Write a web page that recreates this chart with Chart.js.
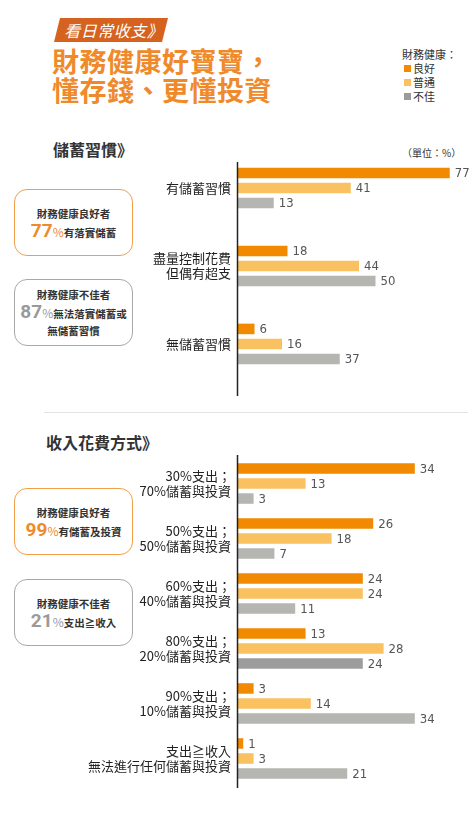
<!DOCTYPE html>
<html lang="zh-Hant">
<head>
<meta charset="utf-8">
<title>看日常收支</title>
<script src="https://cdn.jsdelivr.net/npm/chart.js@4.4.1/dist/chart.umd.min.js"></script>
<style>
  html, body { margin: 0; padding: 0; background: #fff; }
  body {
    position: relative; width: 474px; height: 814px; overflow: hidden;
    font-family: "Noto Sans CJK TC", "Noto Sans", sans-serif; color: #333;
  }
  .abs { position: absolute; }
  .tag {
    left: 57px; top: 18px; width: 108px; height: 24px;
    background: #d5621e; transform: skewX(-14deg);
  }
  .tag span {
    display: block; color: #fff; font-size: 16px; line-height: 24px;
    padding-left: 9px; letter-spacing: 0.5px;
  }
  .title {
    left: 52px; top: 46px; font-size: 27px; line-height: 29px;
    font-weight: 700; color: #ef8a2c; letter-spacing: 0.5px;
  }
  .legend { left: 402px; top: 47px; font-size: 11px; line-height: 14px; color: #333; }
  .legend .item { display: flex; align-items: center; }
  .legend .sw { width: 7px; height: 7px; margin: 0 2px 0 2px; }
  .section { font-size: 16px; font-weight: 700; color: #333; }
  .unit { left: 402px; top: 145px; font-size: 10px; color: #333; }
  .box {
    left: 14px; width: 117px; height: 65px; border-radius: 13px;
    border: 1.5px solid #f0a04a; text-align: center;
    display: flex; flex-direction: column; justify-content: center;
    font-size: 10.5px; font-weight: 700; line-height: 17px; color: #333;
  }
  .box.poor { border-color: #a8a8a8; }
  .big { font-family: Roboto, "DejaVu Sans", sans-serif; font-size: 19px; font-weight: 700; color: #ef8a2c; }
  .pct { font-size: 12px; color: #ef8a2c; font-weight: 400; }
  .poor .big, .poor .pct { color: #9a9a9a; }
  .sep { left: 44px; top: 412px; width: 424px; height: 1px; background: #e4e4e4; }
  canvas { position: absolute; left: 0; }
</style>
</head>
<body>
<div class="abs tag"><span>看日常收支》</span></div>
<div class="abs title">財務健康好寶寶，<br>懂存錢、更懂投資</div>
<div class="abs legend" id="legend"><div>財務健康：</div></div>

<div class="abs section" style="left:53px; top:137px;">儲蓄習慣》</div>
<div class="abs unit">（單位：%）</div>

<div class="abs box" style="top:189px;">
  <div>財務健康良好者</div>
  <div><span class="big">77</span><span class="pct">%</span>有落實儲蓄</div>
</div>
<div class="abs box poor" style="top:279px;">
  <div>財務健康不佳者</div>
  <div><span class="big">87</span><span class="pct">%</span>無法落實儲蓄或</div>
  <div>無儲蓄習慣</div>
</div>

<div class="abs sep"></div>
<div class="abs section" style="left:46px; top:430px;">收入花費方式》</div>

<div class="abs box" style="top:488px;">
  <div>財務健康良好者</div>
  <div><span class="big">99</span><span class="pct">%</span>有儲蓄及投資</div>
</div>
<div class="abs box poor" style="top:579px;">
  <div>財務健康不佳者</div>
  <div><span class="big">21</span><span class="pct">%</span>支出≧收入</div>
</div>

<canvas id="habitChart" width="474" height="260" style="top:140px;"></canvas>
<canvas id="spendChart" width="474" height="350" style="top:450px;"></canvas>

<script>
// 財務健康分組
const seriesNames = ["良好", "普通", "不佳"];
const seriesColors = ["#f18a00", "#f9c160", "#b5b6b1"];

// 儲蓄習慣
const habitCategories = [["有儲蓄習慣"], ["盡量控制花費", "但偶有超支"], ["無儲蓄習慣"]];
const habitGood = [77, 18, 6];
const habitAvg = [41, 44, 16];
const habitPoor = [13, 50, 37];

// 收入花費方式
const spendCategories = [
    ["30%支出；", "70%儲蓄與投資"],
    ["50%支出；", "50%儲蓄與投資"],
    ["60%支出；", "40%儲蓄與投資"],
    ["80%支出；", "20%儲蓄與投資"],
    ["90%支出；", "10%儲蓄與投資"],
    ["支出≧收入", "無法進行任何儲蓄與投資"],
];
const spendGood = [34, 26, 24, 13, 3, 1];
const spendAvg = [13, 18, 24, 28, 14, 3];
const spendPoor = [3, 7, 11, 24, 34, 21];

// legend
const legendEl = document.getElementById("legend");
seriesNames.forEach((name, i) => {
    const row = document.createElement("div");
    row.className = "item";
    row.innerHTML = '<span class="sw" style="background:' +
        (i === 2 ? "#9b9b9b" : seriesColors[i]) + '"></span>' + name;
    legendEl.appendChild(row);
});

// vertical axis line, may stick out of the chart area a bit
const axisLinePlugin = {
    id: "axisLine",
    afterDatasetsDraw(chart, args, opts) {
        const { ctx, chartArea } = chart;
        ctx.save();
        ctx.strokeStyle = "#222";
        ctx.lineWidth = 1.5;
        ctx.beginPath();
        ctx.moveTo(chartArea.left - 0.5, chartArea.top + (opts.top || 0));
        ctx.lineTo(chartArea.left - 0.5, chartArea.bottom + (opts.bottom || 0));
        ctx.stroke();
        ctx.restore();
    },
};

// numbers at the end of each bar
const valueLabelPlugin = {
    id: "valueLabels",
    afterDatasetsDraw(chart) {
        const ctx = chart.ctx;
        ctx.save();
        ctx.font = '13px "Liberation Sans Narrow", "DejaVu Sans Condensed", Roboto, sans-serif';
        ctx.fillStyle = "#555";
        ctx.textAlign = "left";
        ctx.textBaseline = "middle";
        chart.data.datasets.forEach((ds, di) => {
            chart.getDatasetMeta(di).data.forEach((bar, i) => {
                ctx.fillText(String(ds.data[i]), bar.x + 5, bar.y + 1);
            });
        });
        ctx.restore();
    },
};

function makeDatasets(values, darkIndex) {
    return values.map((data, i) => ({
        label: seriesNames[i],
        data: data,
        backgroundColor: (c) =>
            i === 2 && c.dataIndex === darkIndex ? "#9d9d9d" : seriesColors[i],
        borderWidth: 0,
        barPercentage: 0.7,
    }));
}

function makeChart(el, labels, values, opts) {
    return new Chart(el.getContext("2d"), {
        type: "bar",
        data: { labels: labels, datasets: makeDatasets(values, opts.darkIndex) },
        options: {
            indexAxis: "y",
            responsive: false,
            animation: false,
            categoryPercentage: opts.catPct,
            layout: { padding: opts.padding },
            scales: {
                x: { display: false, min: 0, max: opts.max },
                y: {
                    grid: { display: false, drawTicks: false },
                    border: { display: false },
                    ticks: {
                        padding: 7,
                        color: "#222",
                        font: { family: "'Noto Sans CJK TC', sans-serif", size: 13, lineHeight: 1.15 },
                    },
                    afterFit(scale) {
                        scale.width = 238;
                        // labels may spill past the area, keep the plot full height
                        scale.paddingTop = 0;
                        scale.paddingBottom = 0;
                    },
                },
            },
            plugins: {
                legend: { display: false },
                tooltip: { enabled: false },
                axisLine: opts.axis,
            },
        },
        plugins: [axisLinePlugin, valueLabelPlugin],
    });
}

makeChart(document.getElementById("habitChart"), habitCategories,
    [habitGood, habitAvg, habitPoor], {
        max: 80, catPct: 0.58, darkIndex: -1,
        padding: { top: 9, bottom: 17, left: 0, right: 16 },
        axis: { top: 13, bottom: 13 },
    });

makeChart(document.getElementById("spendChart"), spendCategories,
    [spendGood, spendAvg, spendPoor], {
        max: 45, catPct: 0.82, darkIndex: 3,
        padding: { top: 6, bottom: 14, left: 0, right: 2 },
        axis: { top: -1, bottom: 2 },
    });
</script>
</body>
</html>
